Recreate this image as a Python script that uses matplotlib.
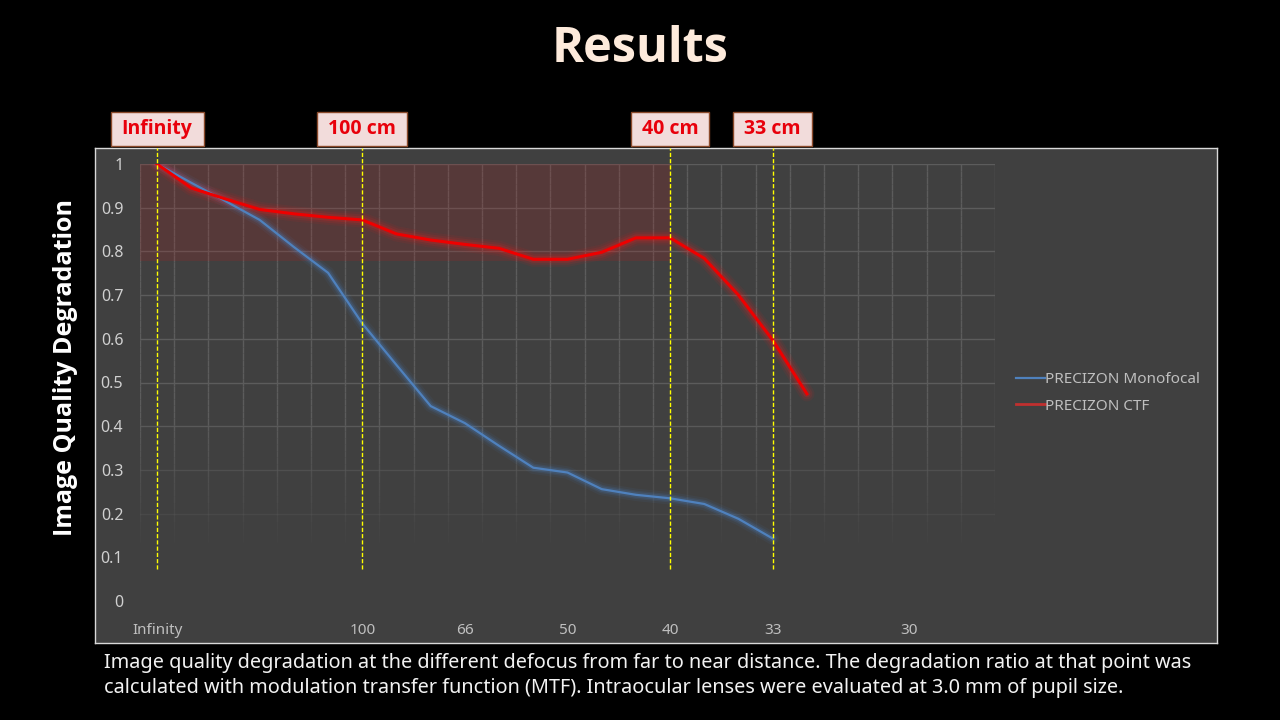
import matplotlib
matplotlib.use("Agg")
import matplotlib.pyplot as plt
import matplotlib.transforms as mtransforms
from matplotlib.patches import Rectangle
from matplotlib.collections import LineCollection
from matplotlib.lines import Line2D
import numpy as np

plt.rcParams['font.family'] = ['Noto Sans', 'DejaVu Sans']
BOLD = ['Open Sans', 'Lato', 'DejaVu Sans']

# ---------------- data ----------------
n_categories = 25
tick_positions = [0, 6, 9, 12, 15, 18, 22]
tick_labels = ["Infinity", "100", "66", "50", "40", "33", "30"]

mono_values = [1.0, 0.957, 0.915, 0.872, 0.81, 0.751, 0.635, 0.54, 0.446, 0.407,
               0.355, 0.305, 0.294, 0.256, 0.243, 0.235, 0.222, 0.188, 0.143]
ctf_values = [1.0, 0.945, 0.92, 0.896, 0.886, 0.878, 0.872, 0.84, 0.826, 0.816,
              0.807, 0.782, 0.782, 0.798, 0.831, 0.831, 0.784, 0.70, 0.597, 0.474]

marker_positions = [0, 6, 15, 18]
marker_labels = ["Infinity", "100 cm", "40 cm", "33 cm"]

shade_x = (-0.5, 15)
shade_y = (0.779, 1.0)

yticks = [0, 0.1, 0.2, 0.3, 0.4, 0.5, 0.6, 0.7, 0.8, 0.9, 1.0]
ytick_labels = ["0", "0.1", "0.2", "0.3", "0.4", "0.5", "0.6", "0.7", "0.8", "0.9", "1"]

# ---------------- figure ----------------
W, H = 1280, 720
fig = plt.figure(figsize=(12.8, 7.2), dpi=100, facecolor="black")

def fx(px):
    return px / W

def fy(py):
    return 1 - py / H

# chart background frame (as a background axes)
bg = fig.add_axes([fx(95), fy(643), fx(1217) - fx(95), fy(148) - fy(643)], zorder=-5)
bg.set_facecolor("#404040")
bg.set_xticks([])
bg.set_yticks([])
for s in bg.spines.values():
    s.set_color("#d9d9d9")
    s.set_linewidth(1.0)

ax = fig.add_axes([fx(140), fy(601), fx(995) - fx(140), fy(164) - fy(601)], zorder=1)
ax.set_facecolor("none")
for s in ax.spines.values():
    s.set_visible(False)
ax.set_xlim(-0.5, n_categories - 0.5)
ax.set_ylim(0, 1)

# grid lines (fading towards bottom)
grid_col = "#5c5c5c"
hgrid_alpha = {1.0: 1, 0.9: 1, 0.8: 1, 0.7: 1, 0.6: 1, 0.5: 1, 0.4: 0.9, 0.3: 0.55, 0.2: 0.3}
for yv, a in hgrid_alpha.items():
    ax.plot([-0.5, n_categories - 0.5], [yv, yv], color=grid_col, lw=1, alpha=a, zorder=1)

segs, alphas = [], []
ys = np.linspace(0.12, 1.0, 60)
for xv in np.arange(-0.5, n_categories, 1.0):
    for i in range(len(ys) - 1):
        segs.append([(xv, ys[i]), (xv, ys[i + 1])])
        mid = 0.5 * (ys[i] + ys[i + 1])
        alphas.append(float(np.clip((mid - 0.12) / 0.3, 0, 1)))
cols = [(0x5c / 255, 0x5c / 255, 0x5c / 255, a) for a in alphas]
ax.add_collection(LineCollection(segs, colors=cols, linewidths=1, zorder=1))

# shaded region
ax.add_patch(Rectangle((shade_x[0], shade_y[0]), shade_x[1] - shade_x[0], shade_y[1] - shade_y[0],
                       facecolor="#b02020", alpha=0.2, edgecolor="none", zorder=1.5))

# lines with glow
x_mono = np.arange(len(mono_values))
x_ctf = np.arange(len(ctf_values))

blue = "#4f81bd"
red = "#ee0000"
for lw, a in [(9, 0.06), (6, 0.10), (4, 0.15)]:
    ax.plot(x_mono, mono_values, color="#4a90e2", lw=lw, alpha=a, solid_capstyle="round",
            solid_joinstyle="round", zorder=2)
ax.plot(x_mono, mono_values, color=blue, lw=1.6, zorder=3, solid_joinstyle="round")

for lw, a in [(11, 0.07), (8, 0.10), (5, 0.18)]:
    ax.plot(x_ctf, ctf_values, color="#ff1a1a", lw=lw, alpha=a, solid_capstyle="round",
            solid_joinstyle="round", zorder=2)
ax.plot(x_ctf, ctf_values, color=red, lw=2.2, zorder=4, solid_joinstyle="round")

# yellow dashed markers
for xv in marker_positions:
    ax.plot([xv, xv], [0.073, 1.037], color="#ffff00", lw=1.0, ls=(0, (3, 1.5)),
            zorder=5, clip_on=False)

# marker label texts (figure-level so they sit above their boxes)
trans = mtransforms.blended_transform_factory(ax.transData, fig.transFigure)
label_texts = []
for xv, lab in zip(marker_positions, marker_labels):
    t = fig.text(xv, fy(129), lab, transform=trans, ha="center", va="center",
                 fontsize=14, fontweight="bold", family=BOLD, color="#e8000b", zorder=12)
    label_texts.append(t)

# ticks
ax.set_xticks(tick_positions)
ax.set_xticklabels(tick_labels)
ax.set_yticks(yticks)
ax.set_yticklabels(ytick_labels)
ax.tick_params(axis="x", length=0, pad=16, labelsize=11, labelcolor="#bfbfbf")
ax.tick_params(axis="y", length=0, pad=12, labelsize=11.5, labelcolor="#d0d0d0")

# legend
handles = [Line2D([], [], color=blue, lw=1.6), Line2D([], [], color="#c0302f", lw=2.0)]
fig.legend(handles, ["PRECIZON Monofocal", "PRECIZON CTF"], loc="upper left",
           bbox_to_anchor=(fx(1010), fy(366)), frameon=False,
           fontsize=11, labelcolor="#bfbfbf", handlelength=1.9, handletextpad=0.0,
           labelspacing=0.75, borderaxespad=0)

# texts
fig.text(0.5, fy(50), "Results", ha="center", va="center", fontsize=35,
         fontweight="bold", family=BOLD, color="#fdeadb")
fig.text(fx(66), fy(368), "Image Quality Degradation", ha="center", va="center",
         rotation=90, fontsize=18, fontweight="bold", family=BOLD, color="white")
fig.text(fx(104), fy(663), "Image quality degradation at the different defocus from far to near distance. "
         "The degradation ratio at that point was", ha="left", va="center",
         fontsize=14.3, color="#f2f2f2")
fig.text(fx(104), fy(688), "calculated with modulation transfer function (MTF). "
         "Intraocular lenses were evaluated at 3.0 mm of pupil size.", ha="left", va="center",
         fontsize=14.3, color="#f2f2f2")

# boxes sized around the label texts (pixel padding)
fig.canvas.draw()
renderer = fig.canvas.get_renderer()
for t in label_texts:
    bb = t.get_window_extent(renderer)
    x0 = bb.x0 - 11
    x1 = bb.x1 + 11
    y_top = H - 112
    y_bot = H - 146
    fig.patches.append(Rectangle(((x0 + 2) / W, (y_bot - 2) / H), (x1 - x0) / W, (y_top - y_bot) / H,
                                 transform=fig.transFigure, facecolor="black", alpha=0.35,
                                 edgecolor="none", zorder=10))
    fig.patches.append(Rectangle((x0 / W, y_bot / H), (x1 - x0) / W, (y_top - y_bot) / H,
                                 transform=fig.transFigure, facecolor="#f2dcdb",
                                 edgecolor="#8b4a2b", linewidth=1.0, zorder=11))

fig.savefig("out.png", dpi=100, facecolor="black")
